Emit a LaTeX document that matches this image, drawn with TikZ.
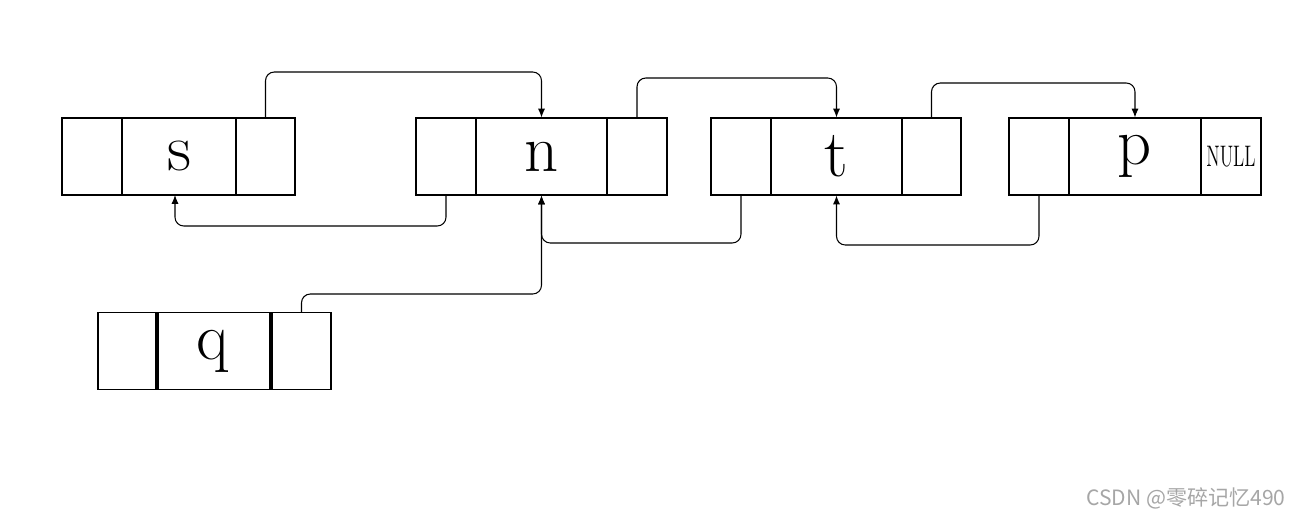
\documentclass[tikz,border=0pt]{standalone}
\usepackage{fontspec}
\newfontfamily\cjk{Noto Sans CJK SC}
\usetikzlibrary{arrows.meta}
\begin{document}
\begin{tikzpicture}[x=0.02cm,y=-0.02cm,
  cell/.style={draw,semithick,minimum height=1.54cm,inner sep=0pt,font=\fontsize{38}{38}\selectfont},
  link/.style={semithick,rounded corners=5pt,-{Latex[length=5pt,width=4pt]}}]
\useasboundingbox (0,0) rectangle (1295,518);
% s
\node[cell,minimum width=1.2cm] (s1) at (92,156.5) {};
\node[cell,minimum width=2.28cm] (s2) at (179,156.5) {s};
\node[cell,minimum width=1.18cm] (s3) at (265.5,156.5) {};
\coordinate (sin) at (175,195);
% n
\node[cell,minimum width=1.2cm] (n1) at (446,156.5) {};
\node[cell,minimum width=2.62cm] (n2) at (541.5,156.5) {n};
\node[cell,minimum width=1.2cm] (n3) at (637,156.5) {};
% t
\node[cell,minimum width=1.2cm] (t1) at (741,156.5) {};
\node[cell,minimum width=2.62cm] (t2) at (836.5,156.5) {t};
\node[cell,minimum width=1.18cm] (t3) at (931.5,156.5) {};
% p
\node[cell,minimum width=1.2cm] (p1) at (1039,156.5) {};
\node[cell,minimum width=2.64cm] (p2) at (1135,156.5) {p};
\node[cell,minimum width=1.2cm] (p3) at (1231,156.5) {\fontsize{13}{13}\selectfont\scalebox{0.8}[1.3]{NULL}};
% q
\node[cell,minimum width=1.2cm] (q1) at (128,351) {};
\node[cell,minimum width=2.28cm] (q2) at (213,351) {q};
\node[cell,minimum width=1.18cm] (q3) at (301.5,351) {};
% links
\draw[link] (s3.north) |- (400,72) -| (n2.north);
\draw[link] (n3.north) |- (700,78) -| (t2.north);
\draw[link] (t3.north) |- (1000,83) -| (p2.north);
\draw[link] (n1.south) |- (300,226) -| (sin);
\draw[link] (t1.south) |- (640,243) -| (n2.south);
\draw[link] (p1.south) |- (940,245) -| (t2.south);
\draw[link] (q3.north) |- (420,294) -| (n2.south);
\node[text=gray!70,font=\cjk\fontsize{12}{12}\selectfont] (wm) at (1186,498) {CSDN @零碎记忆490};
\end{tikzpicture}
\end{document}
